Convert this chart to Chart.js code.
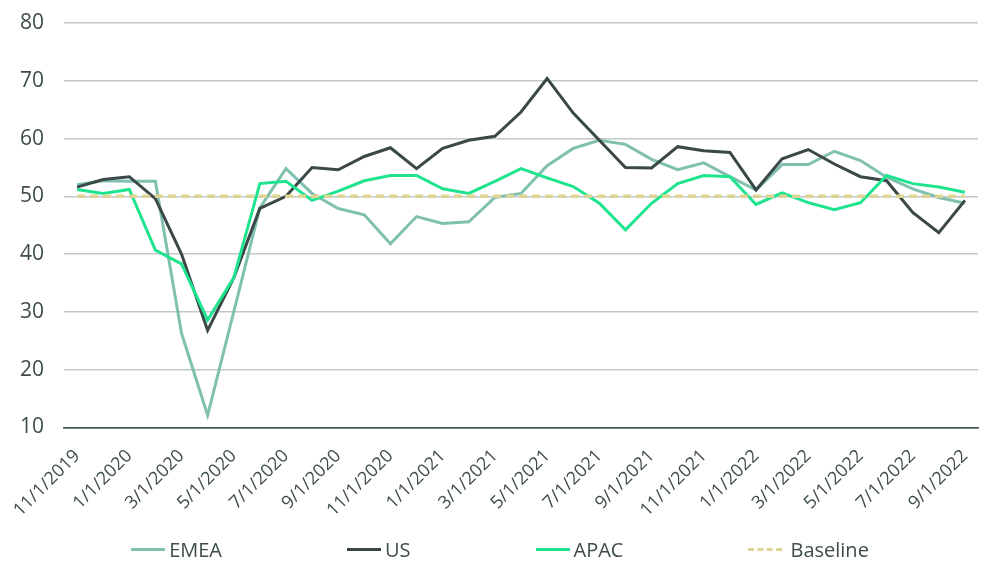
<!DOCTYPE html>
<html lang="en">
<head>
    <meta charset="UTF-8">
    <title>EMEA / US / APAC</title>
    <script src="https://cdn.jsdelivr.net/npm/chart.js"></script>
    <style>
        body { margin: 0; background: #fff; }
        #wrap { position: relative; width: 1000px; height: 562px; }
        #chart { position: absolute; left: 0; top: 0; }
        #legend {
            position: absolute; left: 0; top: 536px; width: 1000px;
            display: flex; justify-content: center; gap: 125px;
            font-family: "Open Sans", sans-serif; font-size: 20px; color: #3e4c4c;
        }
        .item { display: flex; align-items: center; white-space: nowrap; }
        .swatch { width: 34px; height: 0; margin-right: 4px; border-top: 3px solid; }
    </style>
</head>
<body>
<div id="wrap">
    <canvas id="chart" width="1000" height="562"></canvas>
    <div id="legend"></div>
</div>

<script>
    // monthly, 11/1/2019 .. 9/1/2022
    const months = [];
    for (let m = 10; m <= 10 + 34; m++) {
        const y = 2019 + Math.floor(m / 12);
        months.push((m % 12 + 1) + '/1/' + y);
    }

    const emea = [52.0, 52.7, 52.6, 52.6, 26.3, 12.1, 30.0, 48.0, 54.8, 50.5, 47.9, 46.8, 41.8, 46.5, 45.3, 45.6, 49.8, 50.5,
                  55.3, 58.3, 59.7, 59.0, 56.4, 54.6, 55.8, 53.4, 51.1, 55.5, 55.5, 57.8, 56.2, 53.3, 51.3, 49.8, 48.8];
    const us   = [51.6, 52.9, 53.4, 49.6, 40.0, 26.8, 35.9, 47.9, 50.0, 55.0, 54.6, 56.9, 58.4, 54.8, 58.3, 59.7, 60.4, 64.6,
                  70.4, 64.4, 59.7, 55.0, 54.9, 58.6, 57.9, 57.6, 51.1, 56.5, 58.1, 55.6, 53.4, 52.7, 47.2, 43.7, 49.3];
    const apac = [51.2, 50.5, 51.2, 40.7, 38.3, 28.6, 35.9, 52.2, 52.6, 49.3, 50.9, 52.7, 53.6, 53.6, 51.3, 50.5, 52.6, 54.8,
                  53.2, 51.7, 48.8, 44.2, 48.8, 52.2, 53.6, 53.4, 48.6, 50.6, 48.9, 47.7, 48.9, 53.6, 52.2, 51.6, 50.7];
    const baseline = months.map(() => 50);

    const yMin = 10, yMax = 80, yStep = 10;

    const textColor = '#3e4c4c';

    const datasets = [
        { label: 'EMEA', data: emea, borderColor: '#80c0ae', order: 3 },
        { label: 'US', data: us, borderColor: '#3b4848', order: 2 },
        { label: 'APAC', data: apac, borderColor: '#1ee48d', order: 1 },
        { label: 'Baseline', data: baseline, borderColor: '#ddd596', borderDash: [8, 5], borderWidth: 3.5, order: 0 }
    ].map(d => Object.assign({ borderWidth: 3, pointRadius: 0, tension: 0, fill: false }, d));

    const ctx = document.getElementById('chart').getContext('2d');
    new Chart(ctx, {
        type: 'line',
        data: { labels: months, datasets: datasets },
        options: {
            responsive: false,
            animation: false,
            layout: { padding: { left: 0, right: 22, top: 23, bottom: 31 } },
            plugins: { legend: { display: false }, tooltip: { enabled: false } },
            scales: {
                x: {
                    offset: true,
                    grid: { display: false },
                    border: { color: '#4a5656', width: 1.5 },
                    ticks: {
                        color: textColor,
                        font: { family: 'Open Sans', size: 18 },
                        maxRotation: 45, minRotation: 45,
                        autoSkip: false,
                        padding: 10,
                        callback: function(v, i) { return i % 2 === 0 ? this.getLabelForValue(v) : null; }
                    }
                },
                y: {
                    min: yMin, max: yMax,
                    border: { display: false },
                    afterFit: s => { s.width = 64; },
                    grid: {
                        drawTicks: true,
                        tickLength: 17,
                        tickColor: 'rgba(0,0,0,0)',
                        color: c => c.tick.value === yMin ? '#4a5656' : '#c3c8c8',
                        lineWidth: 1.5
                    },
                    ticks: {
                        stepSize: yStep,
                        color: textColor,
                        font: { family: 'Open Sans', size: 21 },
                        padding: 3
                    }
                }
            }
        }
    });

    // legend
    const legend = document.getElementById('legend');
    datasets.forEach(d => {
        const item = document.createElement('div');
        item.className = 'item';
        const sw = document.createElement('span');
        sw.className = 'swatch';
        sw.style.borderTopColor = d.borderColor;
        if (d.borderDash) { sw.style.borderTopStyle = 'dashed'; sw.style.marginRight = '8px'; }
        const t = document.createElement('span');
        t.textContent = d.label;
        item.appendChild(sw);
        item.appendChild(t);
        legend.appendChild(item);
    });
</script>
</body>
</html>
